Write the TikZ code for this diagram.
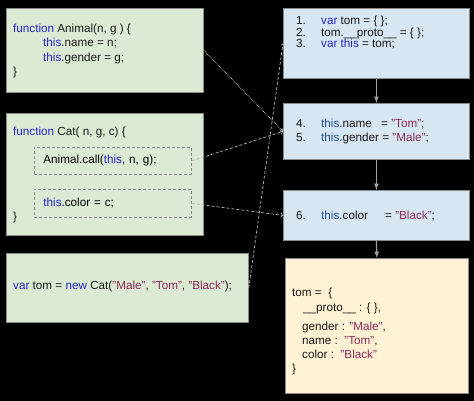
\documentclass[tikz,border=0pt]{standalone}
\usepackage{fontspec}
\setmainfont{Liberation Sans}
\usepackage{xcolor}
\usepackage{tikz}
\usetikzlibrary{arrows,positioning,calc}

\definecolor{kwblue}{HTML}{2626C6}
\definecolor{thisblue}{HTML}{22508E}
\definecolor{strred}{HTML}{8C2A58}
\definecolor{greenfill}{HTML}{DCE9D3}
\definecolor{bluefill}{HTML}{D6E6F3}
\definecolor{yellowfill}{HTML}{FEF1D4}
\definecolor{boxline}{HTML}{8A8A8A}

\newcommand{\jskw}[1]{\textcolor{kwblue}{#1}}
\newcommand{\jsthis}{\textcolor{thisblue}{this}}
\newcommand{\jsstr}[1]{\textcolor{strred}{#1}}

\tikzset{
	codebox/.style={draw=boxline, line width=0.8pt, anchor=north west, inner sep=0pt},
	callbox/.style={draw=boxline, densely dashed, line width=0.8pt, anchor=north west, inner sep=0pt,
		minimum width=157pt, text width=139pt, inner xsep=9pt, align=left},
	code/.style={anchor=north west, inner sep=0pt, align=left, text=black!90},
	flowarrow/.style={-latex, draw=gray!75, line width=1.2pt},
	link/.style={-to, draw=gray!55, densely dashed, line width=0.7pt},
}

\begin{document}
\begin{tikzpicture}[x=1pt,y=-1pt,font=\fontsize{11.7}{14.3}\selectfont]
		\fill[black] (0,0) rectangle (474,401);
		\useasboundingbox (0,0) rectangle (474,401);
		% left column: the source code
		\node[codebox, fill=greenfill, minimum width=197pt, minimum height=84pt] (animal) at (6,8) {};
		\node[code] (animaltext) at (13,24) {\jskw{function} Animal(n, g ) \{\\
			\hspace{30pt}\textcolor{kwblue}{this}.name = n;\\
			\hspace{30pt}\textcolor{kwblue}{this}.gender = g;\\
			\}};
		\node[codebox, fill=greenfill, minimum width=197pt, minimum height=122pt] (cat) at (6,113) {};
		\node[code] (cattop) at (13,127) {\jskw{function} Cat( n, g, c) \{};
		\node[code] (catend) at (13,212) {\}};
		\node[callbox, minimum height=27pt] (callbox) at (34,147) {Animal.call(\textcolor{kwblue}{this}, n, g);};
		\node[callbox, minimum height=28pt] (colorbox) at (34,189) {\textcolor{kwblue}{this}.color = c;};
		\node[codebox, fill=greenfill, minimum width=242pt, minimum height=69pt] (newbox) at (6,253) {};
		\node[code] (newtext) at (13,281) {\jskw{var} tom = \jskw{new} Cat(\jsstr{"Male"}, \jsstr{"Tom"}, \jsstr{"Black"});};
		% right column: what new does
		\node[codebox, fill=bluefill, minimum width=186pt, minimum height=70pt] (step1) at (283,8) {};
		\node[code, font=\fontsize{11.7}{11.4}\selectfont] (step1text) at (296,16) {\makebox[25pt][l]{1.}\jskw{var} tom = \{ \};\\
			\makebox[25pt][l]{2.}tom.\_\_proto\_\_ = \{ \};\\
			\makebox[25pt][l]{3.}\jskw{var} \jskw{this} = tom;};
		\node[codebox, fill=bluefill, minimum width=186pt, minimum height=56pt] (step2) at (283,103) {};
		\node[code, font=\fontsize{11.7}{14}\selectfont] (step2text) at (296,119) {\makebox[25pt][l]{4.}\makebox[60pt][l]{\jsthis.name}= \jsstr{"Tom"};\\
			\makebox[25pt][l]{5.}\jsthis.gender = \jsstr{"Male"};};
		\node[codebox, fill=bluefill, minimum width=186pt, minimum height=50pt] (step3) at (283,190) {};
		\node[code] (step3text) at (296,211) {\makebox[25pt][l]{6.}\makebox[64pt][l]{\jsthis.color}= \jsstr{"Black"};};
		\node[codebox, fill=yellowfill, minimum width=183pt, minimum height=135pt] (result) at (285,258) {};
		\node[code, font=\fontsize{11.7}{14}\selectfont] (resulttext) at (292,288) {tom =\ \ \{\\[1pt]
			\hspace{11pt}\_\_proto\_\_ : \{ \},\\[5pt]
			\hspace{10pt}gender : \jsstr{"Male"},\\
			\hspace{10pt}name :\ \ \jsstr{"Tom"},\\
			\hspace{10pt}color :\ \ \jsstr{"Black"}\\
			\}};
		% steps
		\draw[flowarrow] (step1.south) -- (step2.north);
		\draw[flowarrow] (step2.south) -- (step3.north);
		\draw[flowarrow] (step3.south) -- (result.north);
		% links from code to steps
		\draw[link, draw=white!80!gray, densely dotted] (animal.east) -- (step2.west);
		\draw[link] (callbox.east) -- (step2.west);
		\draw[link] (colorbox.east) -- (step3.west);
		\draw[link] (newbox.east) -- (step1.west);
	\end{tikzpicture}
\end{document}
